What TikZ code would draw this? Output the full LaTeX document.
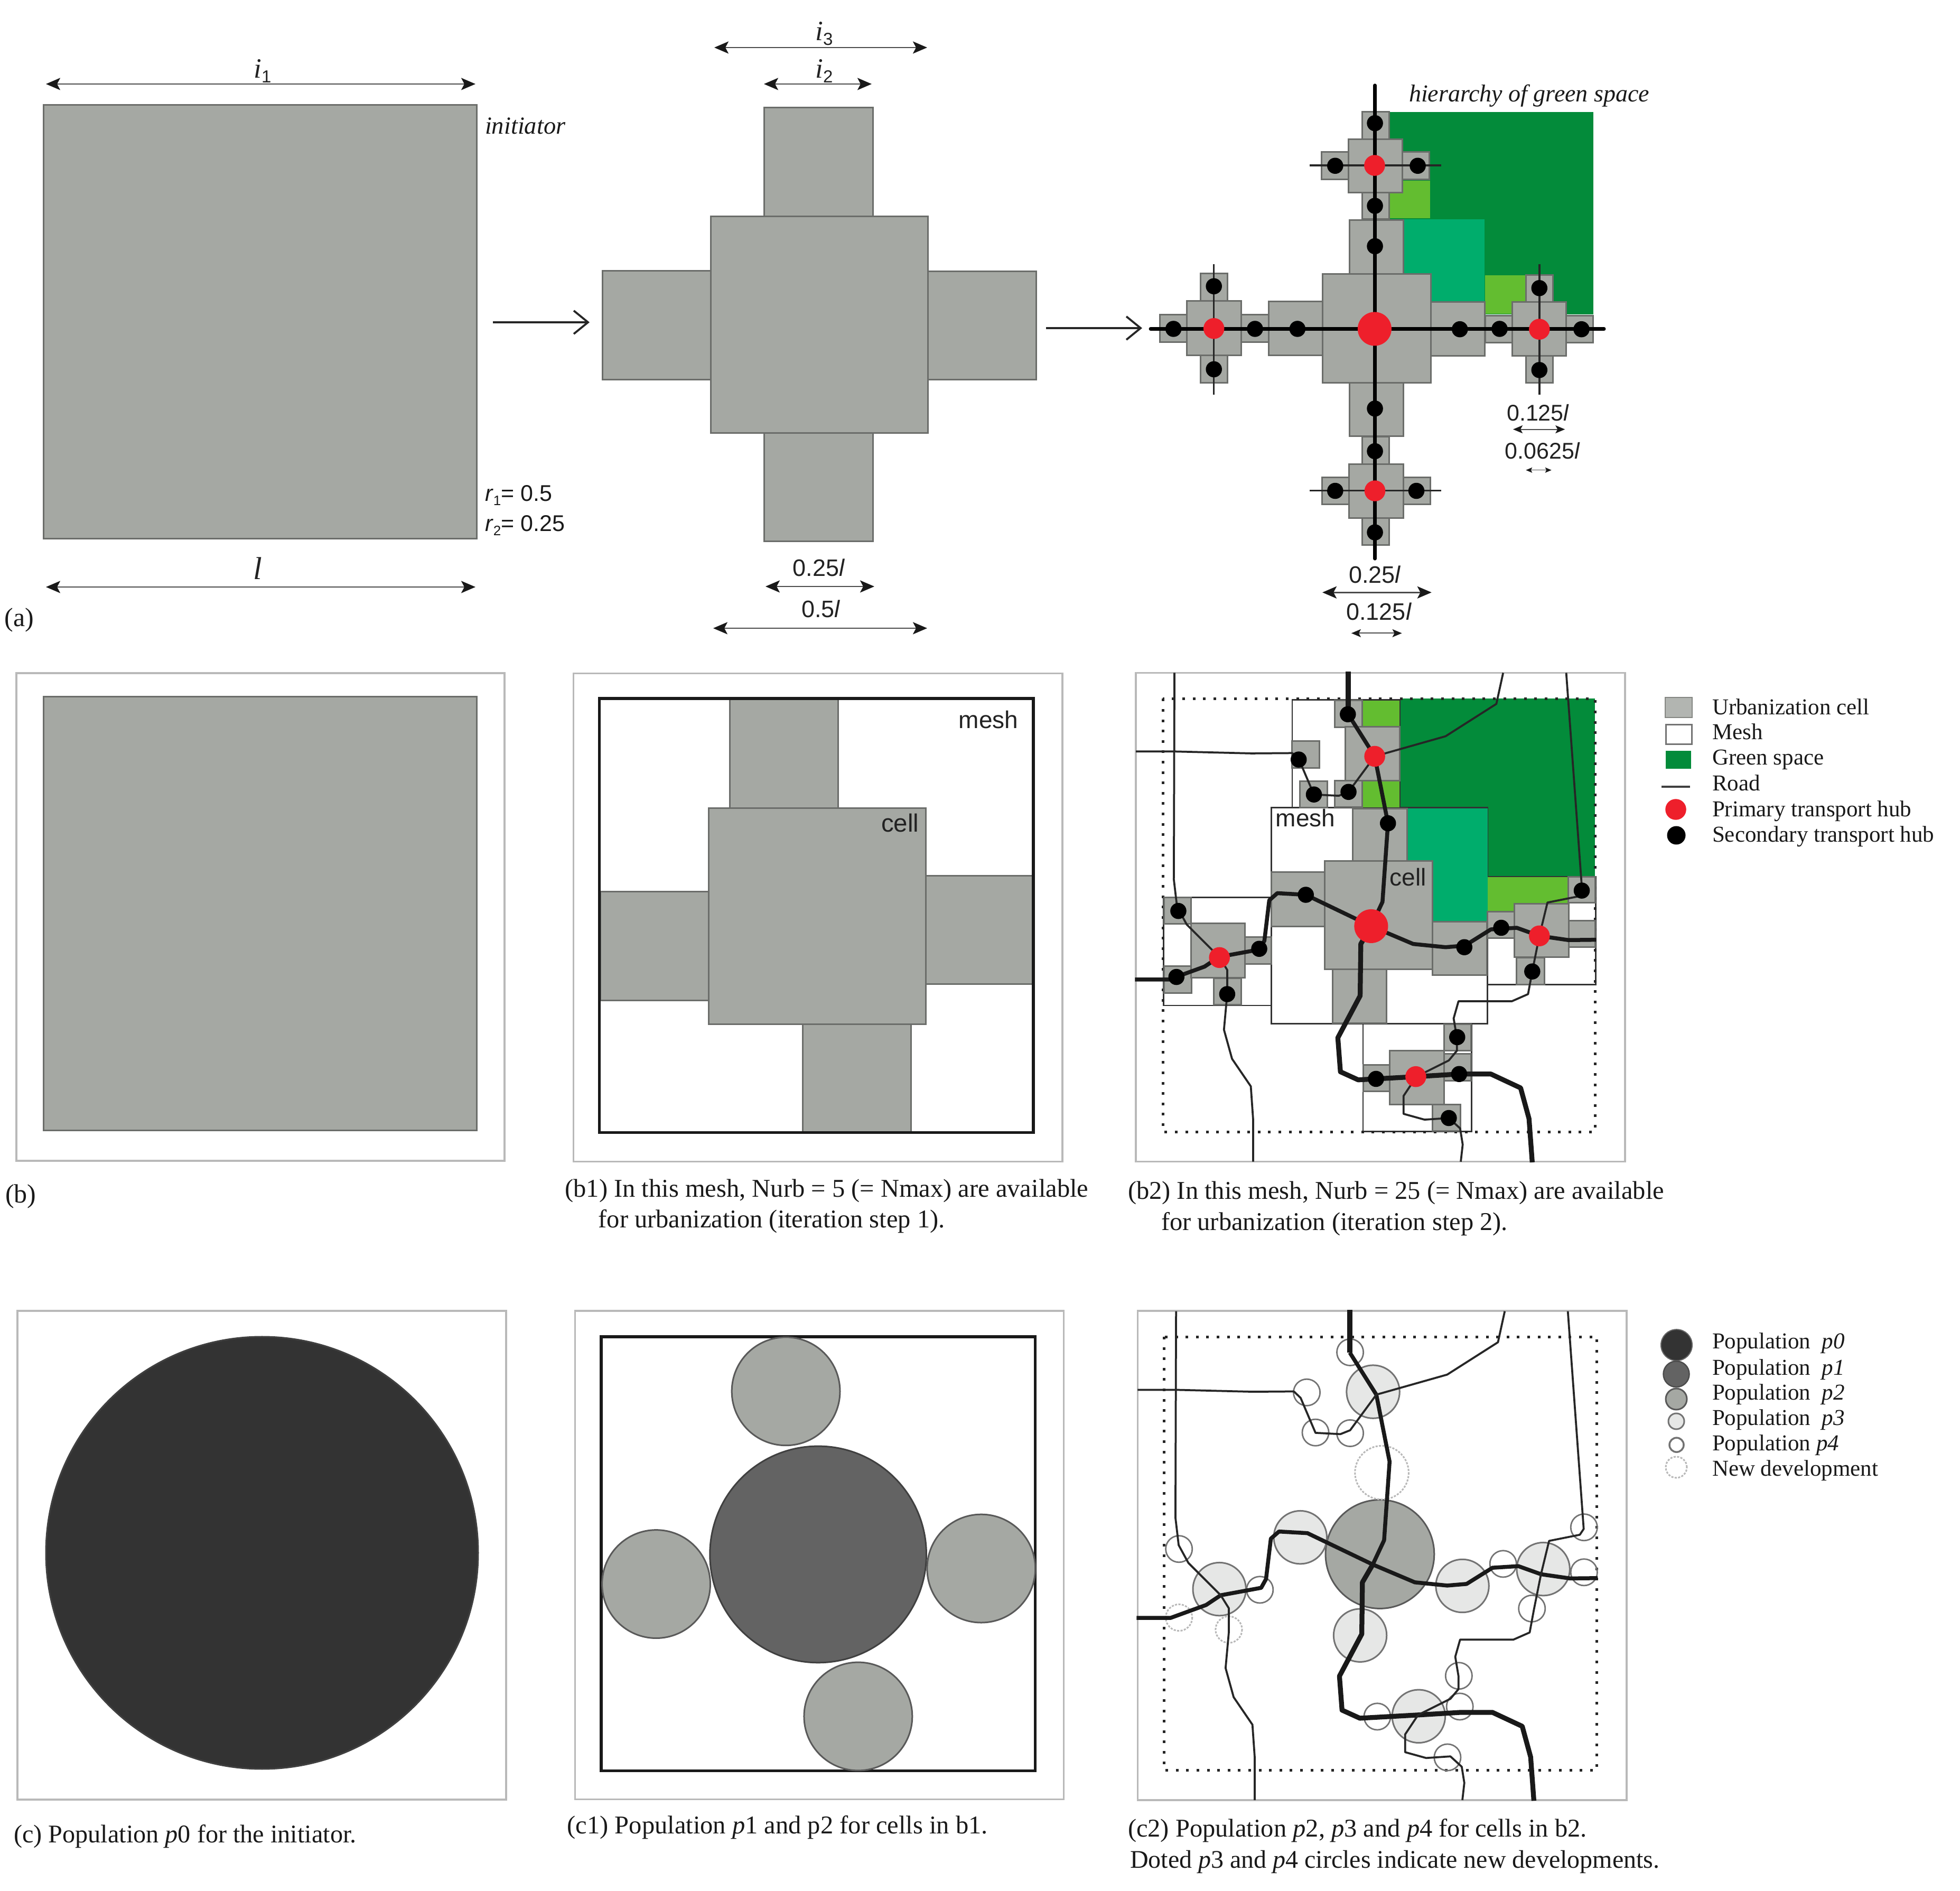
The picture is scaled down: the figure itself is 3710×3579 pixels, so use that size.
\documentclass[tikz,border=0pt]{standalone}
\usepackage{fontspec}
\setmainfont{Liberation Serif}
\setsansfont{Liberation Sans}
\usetikzlibrary{arrows.meta}
\definecolor{cellgray}{HTML}{A5A8A3}
\definecolor{celledge}{HTML}{6B6D6A}
\definecolor{framegray}{HTML}{B9B9B9}
\definecolor{gdark}{HTML}{038B3A}
\definecolor{gmid}{HTML}{00AD6C}
\definecolor{glight}{HTML}{63BD30}
\definecolor{hubred}{HTML}{EE1F2B}
\definecolor{popA}{HTML}{333333}
\definecolor{popB}{HTML}{636363}
\definecolor{popD}{HTML}{E6E7E6}
\definecolor{txt}{HTML}{222222}
\newcommand\fpx[1]{\fontsize{#1}{#1}\selectfont}
\newcommand\cellbox[4]{\path[cellbox] (#1,#3) rectangle (#2,#4);}
\newcommand\meshbox[4]{\path[meshbox] (#1,#3) rectangle (#2,#4);}
\newcommand\greenbox[5]{\fill[#1] (#2,#4) rectangle (#3,#5);}
\newcommand\hubk[2]{\fill[black] (#1,#2) circle (3.05pt);}
\newcommand\hubr[2]{\fill[hubred] (#1,#2) circle (3.95pt);}
\newcommand\dimar[5][dimarrow]{\coordinate (#2-a) at (#3,#5);\coordinate (#2-b) at (#4,#5);\draw[#1] (#2-a) -- (#2-b);}
\newcommand\popc[4]{\path[#1] (#2,#3) circle[radius=#4];}
\newcommand\roads{%
  \draw[thickroad] (689,18) -- (689,150);
  \draw[midroad] (689,150) -- (771,280) -- (812,487) -- (795,730) -- (760,805);
  \draw[thickroad] (760,805) -- (728,860) -- (726,1020) -- (657,1150) -- (665,1255) -- (720,1280) -- (900,1270) -- (1032,1262) -- (1130,1262) -- (1222,1305) -- (1248,1400) -- (1258,1535);
  \draw[midroad] (30,970) -- (135,970) -- (245,930) -- (290,900) -- (415,877) -- (430,850) -- (445,725) -- (470,703) -- (558,708) -- (760,805) -- (890,860) -- (990,870) -- (1050,865) -- (1130,815) -- (1210,810) -- (1280,835) -- (1370,848) -- (1455,847);
  \draw[thinroad] (152,22) -- (150,660) -- (160,745) -- (190,800) -- (250,860) -- (290,900) -- (315,940) -- (315,1015) -- (305,1125) -- (330,1215) -- (388,1300) -- (395,1400) -- (395,1533);
  \draw[thinroad] (33,265) -- (150,265) -- (390,271) -- (516,270) -- (537,290) -- (583,398) -- (660,402) -- (690,390) -- (771,280) -- (990,218) -- (1147,118) -- (1168,22);
  \draw[thinroad] (1363,22) -- (1412,695) -- (1400,713) -- (1305,732) -- (1280,835) -- (1258,945) -- (1245,1015) -- (1195,1037) -- (1030,1037) -- (1015,1090) -- (1025,1150) -- (1025,1190) -- (1000,1220) -- (900,1270) -- (860,1330) -- (860,1385) -- (925,1403) -- (1000,1398) -- (1035,1430) -- (1043,1480) -- (1037,1533);
}
\tikzset{
  framebox/.style={draw=framegray,line width=0.7pt,fill=white},
  cellbox/.style={fill=cellgray,draw=celledge,line width=0.6pt},
  meshbox/.style={fill=white,draw=black!80,line width=0.55pt},
  heavymesh/.style={draw=black!90,line width=1.1pt},
  dotbox/.style={draw=black!85,line width=1pt,line cap=butt,dash pattern=on 1pt off 2.92pt},
  thickroad/.style={draw=black!90,line width=1.85pt,line join=round},
  midroad/.style={draw=black!90,line width=1.5pt,line join=round},
  thinroad/.style={draw=black!85,line width=0.75pt,line join=round},
  dimarrow/.style={draw=black!70,line width=0.5pt,{Stealth[length=5.4pt,width=4.6pt,black!90,inset=1.2pt]}-{Stealth[length=5.4pt,width=4.6pt,black!90,inset=1.2pt]}},
  dimsmall/.style={draw=black!70,line width=0.4pt,{Stealth[length=3.6pt,width=3pt,black!90,inset=0.8pt]}-{Stealth[length=3.6pt,width=3pt,black!90,inset=0.8pt]}},
  dimtiny/.style={draw=black!70,line width=0.3pt,{Stealth[length=2.4pt,width=2pt,black!90,inset=0.5pt]}-{Stealth[length=2.4pt,width=2pt,black!90,inset=0.5pt]}},
  stepflow/.style={draw=black!85,line width=0.75pt,-{Straight Barb[length=5.4pt,width=8.8pt,line width=0.75pt]}},
  lab/.style={anchor=base west,inner sep=0pt,outer sep=0pt,text=black!90},
  labc/.style={anchor=base,inner sep=0pt,outer sep=0pt,text=txt},
  labe/.style={anchor=base east,inner sep=0pt,outer sep=0pt,text=txt},
  capt/.style={lab,font=\fpx{9.7}},
  legt/.style={lab,font=\fpx{8.6}},
  sansl/.style={labc,font=\sffamily\fpx{9}},
  pBig/.style={fill=cellgray,draw=black!65,line width=0.6pt},
  pLight/.style={fill=popD,draw=black!55,line width=0.6pt},
  pSmall/.style={draw=black!55,line width=0.55pt},
  pNew/.style={draw=black!28,line width=0.6pt,dash pattern=on 0.8pt off 0.5pt},
}
\begin{document}
\begin{tikzpicture}[x=0.2pt,y=-0.2pt]
\useasboundingbox (0,0) rectangle (3710,3579);
\fill[white] (0,0) rectangle (3710,3579);

% ---------- row (a), left: the initiator
\path[cellbox] (82,199) rectangle (902,1020);
\dimar{dia}{87}{900}{159}
\dimar{dl}{87}{900}{1111}
\node[labc,font=\fpx{10.6}] (ione) at (497,148) {\textit{i}\raisebox{-0.35ex}{\sffamily\fpx{6.6}1}};
\node[labc,font=\fpx{12}] (ell) at (488,1097) {\textit{l}};
\node[lab,font=\itshape\fpx{9.3}] (init) at (918,254) {initiator};
\node[lab,font=\sffamily\fpx{8.6}] (rone) at (918,949) {\textit{r}\raisebox{-0.35ex}{\fpx{5.2}1}= 0.5};
\node[lab,font=\sffamily\fpx{8.6}] (rtwo) at (918,1006) {\textit{r}\raisebox{-0.35ex}{\fpx{5.2}2}= 0.25};
\node[lab,font=\fpx{10}] (lbla) at (9,1186) {(a)};
\coordinate (fa) at (933,610); \coordinate (fb) at (1116,610);
\draw[stepflow] (fa) -- (fb);

% ---------- row (a), middle: first iteration
\cellbox{1446}{1652}{204}{410}
\cellbox{1446}{1652}{820}{1025}
\cellbox{1140}{1345}{513}{719}
\cellbox{1756}{1961}{514}{719}
\cellbox{1345}{1756}{410}{820}
\dimar{dithree}{1352}{1755}{90}
\dimar{ditwo}{1446}{1650}{159}
\dimar{dq}{1449}{1655}{1110}
\dimar{dh}{1350}{1755}{1189}
\node[labc,font=\fpx{10.6}] (ithree) at (1560,77) {\textit{i}\raisebox{-0.35ex}{\sffamily\fpx{6.6}3}};
\node[labc,font=\fpx{10.6}] (itwo) at (1560,148) {\textit{i}\raisebox{-0.35ex}{\sffamily\fpx{6.6}2}};
\node[sansl] (tq) at (1550,1091) {0.25\textit{l}};
\node[sansl] (th) at (1554,1169) {0.5\textit{l}};
\coordinate (ga) at (1980,621); \coordinate (gb) at (2162,621);
\draw[stepflow] (ga) -- (gb);

% ---------- row (a), right: second iteration with green hierarchy
\begin{scope}[shift={(2100,130)},x=0.12755pt,y=-0.1403pt]
\greenbox{gdark}{832}{1436}{117}{663}
\greenbox{gmid}{873}{1113}{406}{627}
\greenbox{glight}{832}{952}{302}{404}
\greenbox{glight}{1115}{1236}{558}{662}
\cellbox{712}{873}{408}{554}
\cellbox{712}{873}{847}{992}
\cellbox{472}{632}{628}{774}
\cellbox{954}{1114}{629}{775}
\cellbox{632}{954}{554}{847}
\foreach \cx/\cy/\xa/\xb/\xc/\xd/\xe/\xf/\ya/\yb/\yc/\yd/\ye/\yf in {
  788/261/710/870/750/830/630/950/190/334/116/406/225/298,
  788/1139/711/872/751/831/631/952/1067/1213/993/1285/1103/1176,
  310/701/229/391/270/351/150/472/627/773/553/847/664/737,
  1276/703/1195/1356/1236/1316/1115/1436/629/775/557/848/667/739}{
  \cellbox{\xc}{\xd}{\yc}{\ya}
  \cellbox{\xc}{\xd}{\yb}{\yd}
  \cellbox{\xe}{\xa}{\ye}{\yf}
  \cellbox{\xb}{\xf}{\ye}{\yf}
  \cellbox{\xa}{\xb}{\ya}{\yb}
}
\draw[black!85,line width=0.7pt] (595,261) -- (985,261);
\draw[black!85,line width=0.7pt] (595,1138) -- (985,1138);
\draw[black!85,line width=0.7pt] (310,527) -- (310,880);
\draw[black!85,line width=0.7pt] (1276,527) -- (1276,880);
\draw[black,line width=1.3pt,line cap=round] (788,45) -- (788,1322);
\draw[black,line width=1.3pt,line cap=round] (122,702) -- (1468,702);
\foreach \hx/\hy in {788/147,670/262,915/262,788/370,788/479,190/702,432/702,558/702,1040/703,1158/702,1401/703,310/587,310/811,1276/592,1276/813,788/917,788/1032,670/1139,911/1139,788/1251}{\hubk{\hx}{\hy}}
\foreach \hx/\hy in {787/261,310/701,1276/703,788/1139}{\hubr{\hx}{\hy}}
\fill[hubred] (787,702) circle (6.4pt);
\dimar[dimsmall]{dea}{1198}{1352}{973}
\dimar[dimtiny]{dsi}{1236}{1312}{1083}
\dimar{dqb}{632}{956}{1413}
\dimar[dimsmall]{deb}{718}{868}{1523}
\node[sansl,font=\sffamily\fpx{8.6}] (tea) at (1272,950) {0.125\textit{l}};
\node[sansl,font=\sffamily\fpx{8.6}] (tsi) at (1285,1053) {0.0625\textit{l}};
\node[sansl] (tqb) at (788,1388) {0.25\textit{l}};
\node[sansl] (teb) at (800,1488) {0.125\textit{l}};
\end{scope}
\node[lab,font=\itshape\fpx{9.2}] (hier) at (2667,193) {hierarchy of green space};

% ---------- row (b), left
\path[framebox] (31,1274) rectangle (955,2197);
\path[cellbox] (82,1319) rectangle (902,2140);
\node[lab,font=\fpx{10}] (lblb) at (10,2277) {(b)};

% ---------- row (b), middle
\begin{scope}[shift={(1040,1250)},x=0.1403pt,y=-0.1403pt]
\path[framebox] (65,35) rectangle (1384,1352);
\cellbox{487}{779}{105}{398}
\cellbox{138}{431}{624}{918}
\cellbox{1016}{1304}{581}{873}
\cellbox{683}{976}{982}{1272}
\cellbox{430}{1016}{398}{982}
\draw[heavymesh] (135,103) rectangle (1306,1274);
\node[labe,font=\sffamily\fpx{9.2}] (tm) at (1265,183) {mesh};
\node[labe,font=\sffamily\fpx{9.5}] (tc) at (997,463) {cell};
\node[capt] (capbo) at (42,1447) {(b1) In this mesh, Nurb = 5 (= Nmax) are available};
\node[capt] (capbob) at (132,1530) {for urbanization (iteration step 1).};
\end{scope}

% ---------- row (b), right
\begin{scope}[shift={(2130,1260)},x=0.12247pt,y=-0.12247pt]
\path[framebox] (33,22) rectangle (1545,1533);
\greenbox{gdark}{850}{1452}{102}{650}
\meshbox{516}{848}{105}{438}
\meshbox{118}{452}{716}{1050}
\meshbox{1120}{1454}{652}{985}
\meshbox{735}{1070}{1107}{1440}
\path[meshbox,line width=0.65pt] (452,439) rectangle (1120,1107);
\draw[dotbox] (116,102) rectangle (1452,1441);
\greenbox{gmid}{871}{1120}{441}{790}
\greenbox{glight}{733}{848}{107}{187}
\greenbox{glight}{733}{848}{358}{437}
\greenbox{glight}{1120}{1370}{653}{758}
\cellbox{703}{871}{441}{604}
\cellbox{452}{617}{638}{806}
\cellbox{950}{1118}{792}{956}
\cellbox{641}{808}{938}{1105}
\cellbox{617}{950}{604}{938}
\cellbox{648}{733}{107}{190}
\cellbox{516}{600}{232}{316}
\cellbox{540}{625}{357}{438}
\cellbox{648}{733}{355}{437}
\cellbox{680}{848}{188}{355}
\cellbox{120}{203}{716}{798}
\cellbox{120}{205}{928}{1011}
\cellbox{370}{452}{838}{922}
\cellbox{273}{358}{966}{1048}
\cellbox{203}{370}{796}{964}
\cellbox{1120}{1203}{760}{842}
\cellbox{1370}{1452}{653}{733}
\cellbox{1370}{1452}{788}{870}
\cellbox{1210}{1295}{902}{985}
\cellbox{1203}{1371}{735}{900}
\cellbox{735}{818}{1233}{1315}
\cellbox{985}{1068}{1108}{1190}
\cellbox{985}{1068}{1200}{1282}
\cellbox{950}{1036}{1357}{1438}
\cellbox{818}{985}{1190}{1357}
\roads
\foreach \hx/\hy in {688/150,536/290,583/398,690/390,812/487,558/708,164/758,158/962,414/875,315/1015,1048/870,1162/810,1411/695,1258/945,1026/1148,1032/1262,775/1277,1000/1398}{\hubk{\hx}{\hy}}
\foreach \hx/\hy in {771/280,291/902,1280/835,898/1270}{\hubr{\hx}{\hy}}
\fill[hubred] (760,805) circle (6.4pt);
\node[lab,font=\sffamily\fpx{9.2},text=txt] (tmb) at (465,498) {mesh};
\node[lab,font=\sffamily\fpx{9.2},text=txt] (tcb) at (818,680) {cell};
\end{scope}
\node[capt] (capbt) at (2135,2270) {(b2) In this mesh, Nurb = 25 (= Nmax) are available};
\node[capt] (capbtb) at (2198,2329) {for urbanization (iteration step 2).};

% legend of row (b)
\fill[cellgray!85!white,draw=cellgray!80!black,line width=0.4pt] (3152,1320) rectangle (3203,1358);
\path[draw=black!55,fill=white,line width=0.6pt] (3153,1372) rectangle (3202,1409);
\fill[gdark] (3153,1421) rectangle (3201,1455);
\coordinate (lra) at (3145,1489); \coordinate (lrb) at (3199,1489);
\draw[black!75,line width=0.7pt] (lra) -- (lrb);
\fill[hubred] (3172,1532) circle (3.95pt);
\fill[black] (3173,1581) circle (3.5pt);
\node[legt] (lga) at (3241,1353) {Urbanization cell};
\node[legt] (lgb) at (3241,1400) {Mesh};
\node[legt] (lgc) at (3241,1448) {Green space};
\node[legt] (lgd) at (3241,1497) {Road};
\node[legt] (lge) at (3241,1546) {Primary transport hub};
\node[legt] (lgf) at (3241,1594) {Secondary transport hub};

% ---------- row (c), left
\path[framebox] (33,2481) rectangle (958,3406);
\path[fill=popA,draw=black!75,line width=0.6pt] (496,2939) circle[radius=409];
\node[capt,font=\fpx{9.65}] (capc) at (26,3487) {(c) Population \textit{p}0 for the initiator.};

% ---------- row (c), middle
\begin{scope}[shift={(1040,2460)},x=0.1403pt,y=-0.1403pt]
\path[framebox] (69,30) rectangle (1388,1348);
\draw[heavymesh] (140,100) rectangle (1311,1271);
\path[fill=popB,draw=black!75,line width=0.6pt] (725,687) circle[radius=292];
\popc{pBig}{638}{247}{146}
\popc{pBig}{288}{767}{146}
\popc{pBig}{1165}{725}{146}
\popc{pBig}{833}{1124}{146}
\node[capt] (capco) at (48,1441) {(c1) Population \textit{p}1 and p2 for cells in b1.};
\end{scope}

% ---------- row (c), right
\begin{scope}[shift={(2130,2470)},x=0.12247pt,y=-0.12247pt]
\path[framebox] (38,18) rectangle (1550,1530);
\draw[dotbox] (120,98) rectangle (1458,1438);
\popc{pBig}{787}{770}{168}
\foreach \hx/\hy in {766/268,541/718,291/878,1042/868,1292/816,726/1021,907/1271}{\popc{pLight}{\hx}{\hy}{82}}
\foreach \hx/\hy in {695/146,561/270,588/394,695/396,166/754,416/880,1418/687,1418/826,1168/800,1257/938,1031/1146,1034/1241,779/1272,996/1398}{\popc{pSmall}{\hx}{\hy}{41}}
\popc{pNew}{166}{966}{41}
\popc{pNew}{320}{1003}{41}
\popc{pNew}{793}{518}{83}
\begin{scope}[shift={(5,-3)}]
\roads
\end{scope}
\end{scope}
\node[capt] (capct) at (2135,3476) {(c2) Population \textit{p}2, \textit{p}3 and \textit{p}4 for cells in b2.};
\node[capt,font=\fpx{9.6}] (capctb) at (2139,3535) {Doted \textit{p}3 and \textit{p}4 circles indicate new developments.};

% legend of row (c)
\path[fill=popA,draw=black!60,line width=0.4pt] (3173.5,2545.7) circle (5.9pt);
\path[fill=popB,draw=black!70,line width=0.5pt] (3173,2600.7) circle (4.9pt);
\path[pBig,fill=cellgray] (3173,2648) circle (4pt);
\path[pLight,fill=popD] (3173,2690) circle (3pt);
\path[pSmall,fill=white,line width=0.7pt] (3173.5,2734.7) circle (2.7pt);
\path[pNew] (3173,2777) circle (4pt);
\node[legt] (lpa) at (3241,2553) {Population\ \ \textit{p0}};
\node[legt] (lpb) at (3241,2603) {Population\ \ \textit{p1}};
\node[legt] (lpc) at (3241,2650) {Population\ \ \textit{p2}};
\node[legt] (lpd) at (3241,2698) {Population\ \ \textit{p3}};
\node[legt] (lpe) at (3241,2746) {Population \textit{p4}};
\node[legt] (lpf) at (3241,2794) {New development};
\end{tikzpicture}
\end{document}
